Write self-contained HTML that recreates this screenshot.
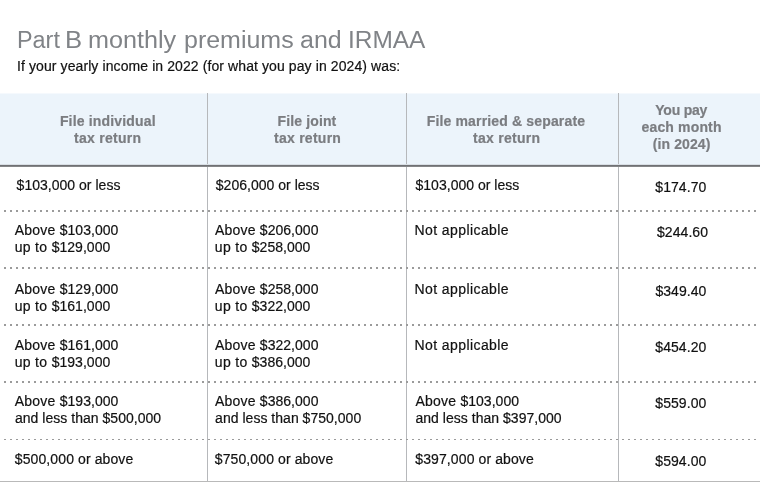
<!DOCTYPE html>
<html lang="en"><head><meta charset="utf-8"><title>Part B monthly premiums and IRMAA</title>
<style>
html,body{margin:0;padding:0;background:#fff;}
body{width:760px;height:498px;position:relative;overflow:hidden;font-family:"Liberation Sans",Arial,sans-serif;color:#111;}
#w{position:absolute;left:0;top:0;width:760px;height:498px;will-change:transform;}
.t{position:absolute;white-space:nowrap;font-size:14px;line-height:17px;margin:0;-webkit-text-stroke:0.2px #111;}
.h{position:absolute;white-space:nowrap;font-size:14px;line-height:17px;font-weight:bold;color:#7b7d81;-webkit-text-stroke:0.2px #7b7d81;}
.v{position:absolute;width:1px;background:#b6b8bb;top:93px;height:389px;}
.d{position:absolute;left:0;width:760px;height:2px;background:repeating-linear-gradient(90deg,transparent 0,transparent 4px,#9b9b9b 4px,#9b9b9b 6px);}
</style></head><body><div id="w">
<h1 id="title" style="position:absolute;left:0;top:26px;margin:0;font-size:23px;line-height:28px;font-weight:normal;color:#808387;white-space:nowrap;width:440px;height:28px"><span style="position:absolute;top:0;left:16.97px;transform-origin:0 0;transform:scaleX(1.0175)">Part</span> <span style="position:absolute;top:0;left:64.68px;transform-origin:0 0;transform:scaleX(1.1148)">B</span> <span style="position:absolute;top:0;left:87.66px;transform-origin:0 0;transform:scaleX(1.0951)">monthly</span> <span style="position:absolute;top:0;left:184.17px;transform-origin:0 0;transform:scaleX(1.0862)">premiums</span> <span style="position:absolute;top:0;left:300.21px;transform-origin:0 0;transform:scaleX(1.0864)">and</span> <span style="position:absolute;top:0;left:347.57px;transform-origin:0 0;transform:scaleX(1.0622)">IRMAA</span> </h1>
<p class="t" id="sub" style="left:17.0px;top:58px;letter-spacing:0.095px">If your yearly income in 2022 (for what you pay in 2024) was:</p>
<div style="position:absolute;left:0;top:93px;width:760px;height:72px;background:linear-gradient(#f5f9fd 0,#f5f9fd 1px,#ecf4fb 1px,#ecf4fb 100%)"></div>
<div class="v" style="left:207px"></div>
<div class="v" style="left:406px"></div>
<div class="v" style="left:618px"></div>
<div style="position:absolute;left:0;top:164px;width:760px;height:3px;background:linear-gradient(#d9dfe5 0,#d9dfe5 1px,#707174 1px,#707174 2px,#858688 2px,#858688 3px)"></div>
<div class="h" style="left:59.9px;top:113px;letter-spacing:0.164px">File individual</div>
<div class="h" style="left:74.1px;top:130px;letter-spacing:0.260px">tax return</div>
<div class="h" style="left:277.5px;top:113px;letter-spacing:0.133px">File joint</div>
<div class="h" style="left:274.0px;top:130px;letter-spacing:0.260px">tax return</div>
<div class="h" style="left:426.7px;top:113px;letter-spacing:0.159px">File married &amp; separate</div>
<div class="h" style="left:473.1px;top:130px;letter-spacing:0.260px">tax return</div>
<div class="h" style="left:655.2px;top:102px;letter-spacing:-0.200px">You pay</div>
<div class="h" style="left:641.5px;top:119px;letter-spacing:0.156px">each month</div>
<div class="h" style="left:652.8px;top:136px;letter-spacing:0.100px">(in 2024)</div>
<div class="d" style="top:210px;height:2px"></div>
<div class="d" style="top:267px;height:2px"></div>
<div class="d" style="top:324px;height:2px"></div>
<div class="d" style="top:381px;height:2px"></div>
<div class="d" style="top:439px;height:1px"></div>
<div style="position:absolute;left:0;top:481px;width:760px;height:1px;background:#b9b9b9"></div>
<div class="t" style="left:16.60px;top:177px;letter-spacing:0.020px">$103,000 or less</div>
<div class="t" style="left:215.80px;top:177px;letter-spacing:0.020px">$206,000 or less</div>
<div class="t" style="left:415.50px;top:177px;letter-spacing:0.020px">$103,000 or less</div>
<div class="t" style="left:655.3px;top:179px;letter-spacing:0.067px">$174.70</div>
<div class="t" style="left:14.80px;top:222px;letter-spacing:0.03px"><span style="letter-spacing:0.22px">Above </span>$103,000</div>
<div class="t" style="left:14.70px;top:239px;letter-spacing:0.03px"><span style="letter-spacing:0.32px">up to </span>$129,000</div>
<div class="t" style="left:214.95px;top:222px;letter-spacing:0.03px"><span style="letter-spacing:0.22px">Above </span>$206,000</div>
<div class="t" style="left:214.80px;top:239px;letter-spacing:0.03px"><span style="letter-spacing:0.32px">up to </span>$258,000</div>
<div class="t" style="left:414.50px;top:222px;letter-spacing:0.415px">Not applicable</div>
<div class="t" style="left:657.0px;top:224px;letter-spacing:0.067px">$244.60</div>
<div class="t" style="left:14.80px;top:281px;letter-spacing:0.03px"><span style="letter-spacing:0.22px">Above </span>$129,000</div>
<div class="t" style="left:14.70px;top:298px;letter-spacing:0.03px"><span style="letter-spacing:0.32px">up to </span>$161,000</div>
<div class="t" style="left:214.95px;top:281px;letter-spacing:0.03px"><span style="letter-spacing:0.22px">Above </span>$258,000</div>
<div class="t" style="left:214.80px;top:298px;letter-spacing:0.03px"><span style="letter-spacing:0.32px">up to </span>$322,000</div>
<div class="t" style="left:414.50px;top:281px;letter-spacing:0.415px">Not applicable</div>
<div class="t" style="left:655.4px;top:283px;letter-spacing:0.067px">$349.40</div>
<div class="t" style="left:14.80px;top:337px;letter-spacing:0.03px"><span style="letter-spacing:0.22px">Above </span>$161,000</div>
<div class="t" style="left:14.70px;top:354px;letter-spacing:0.03px"><span style="letter-spacing:0.32px">up to </span>$193,000</div>
<div class="t" style="left:214.95px;top:337px;letter-spacing:0.03px"><span style="letter-spacing:0.22px">Above </span>$322,000</div>
<div class="t" style="left:214.80px;top:354px;letter-spacing:0.03px"><span style="letter-spacing:0.32px">up to </span>$386,000</div>
<div class="t" style="left:414.50px;top:337px;letter-spacing:0.415px">Not applicable</div>
<div class="t" style="left:655.3px;top:339px;letter-spacing:0.067px">$454.20</div>
<div class="t" style="left:14.80px;top:393px;letter-spacing:0.03px"><span style="letter-spacing:0.22px">Above </span>$193,000</div>
<div class="t" style="left:15.00px;top:410px;letter-spacing:0.024px">and less than $500,000</div>
<div class="t" style="left:214.95px;top:393px;letter-spacing:0.03px"><span style="letter-spacing:0.22px">Above </span>$386,000</div>
<div class="t" style="left:215.10px;top:410px;letter-spacing:0.024px">and less than $750,000</div>
<div class="t" style="left:415.50px;top:393px;letter-spacing:0.03px"><span style="letter-spacing:0.22px">Above </span>$103,000</div>
<div class="t" style="left:415.50px;top:410px;letter-spacing:0.024px">and less than $397,000</div>
<div class="t" style="left:655.3px;top:395px;letter-spacing:0.067px">$559.00</div>
<div class="t" style="left:14.80px;top:451px;letter-spacing:0.106px">$500,000 or above</div>
<div class="t" style="left:214.80px;top:451px;letter-spacing:0.106px">$750,000 or above</div>
<div class="t" style="left:415.30px;top:451px;letter-spacing:0.106px">$397,000 or above</div>
<div class="t" style="left:655.3px;top:453px;letter-spacing:0.067px">$594.00</div>
</div></body></html>
